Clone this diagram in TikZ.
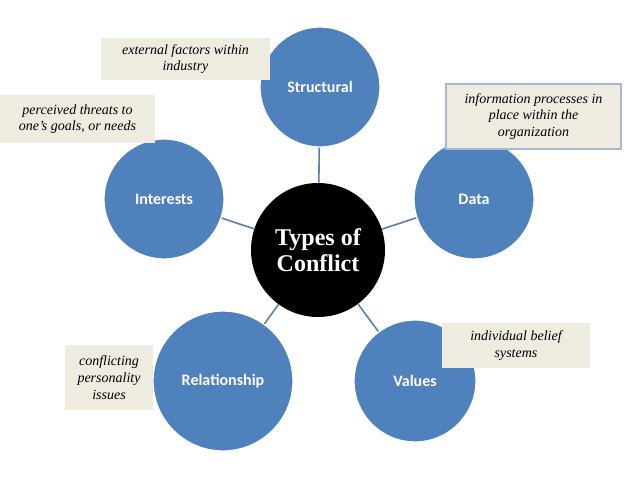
\documentclass[tikz,border=0pt]{standalone}
\usepackage{fontspec}
\setmainfont{Liberation Serif}
\newfontfamily\lab{Carlito}
\begin{document}
\begin{tikzpicture}[x=0.75pt,y=-0.75pt,
  bub/.style={circle,fill=blueA,draw=white,line width=1pt,inner sep=0pt,font=\lab\bfseries\fontsize{12}{14}\selectfont,text=white},
  note/.style={fill=beige,inner sep=0pt,font=\itshape\fontsize{10.5}{12.5}\selectfont,align=center},
  link/.style={draw=linkc,line width=1.2pt}]
\definecolor{blueA}{HTML}{4F81BD}
\definecolor{beige}{HTML}{EEECE1}
\definecolor{linkc}{HTML}{5A7FAE}
\definecolor{bord}{HTML}{A6B9D3}
\useasboundingbox (0,0) rectangle (638,478);
\node[circle,fill=black,minimum size=134pt*0.75,inner sep=0pt,text=white,font=\bfseries\fontsize{18}{19}\selectfont,align=center] (c) at (318,250) {Types of\\Conflict};
\node[bub,minimum size=120pt*0.75] (s) at (320,87) {Structural};
\node[bub,minimum size=120pt*0.75] (d) at (474,199) {Data};
\node[bub,minimum size=122pt*0.75] (v) at (415,381) {Values};
\node[bub,minimum size=140pt*0.75] (r) at (223,381) {Relationship};
\node[bub,minimum size=120pt*0.75] (i) at (164,199) {Interests};
\foreach \n in {s,d,v,r,i} \draw[link] (c) -- (\n);
\node[note,minimum width=169pt*0.75,minimum height=42pt*0.75] (n1) at (185.5,59) {external factors within\\industry};
\node[note,minimum width=155pt*0.75,minimum height=48pt*0.75] (n2) at (77.5,119) {perceived threats to\\one's goals, or needs};
\node[note,draw=bord,line width=0.8pt,minimum width=175pt*0.75,minimum height=65pt*0.75] (n3) at (533.5,116.5) {information processes in\\place within the\\organization};
\node[note,minimum width=148pt*0.75,minimum height=45pt*0.75] (n4) at (516,345.5) {individual belief\\systems};
\node[note,minimum width=88pt*0.75,minimum height=65pt*0.75] (n5) at (109,377.5) {conflicting\\personality\\issues};
\end{tikzpicture}
\end{document}
